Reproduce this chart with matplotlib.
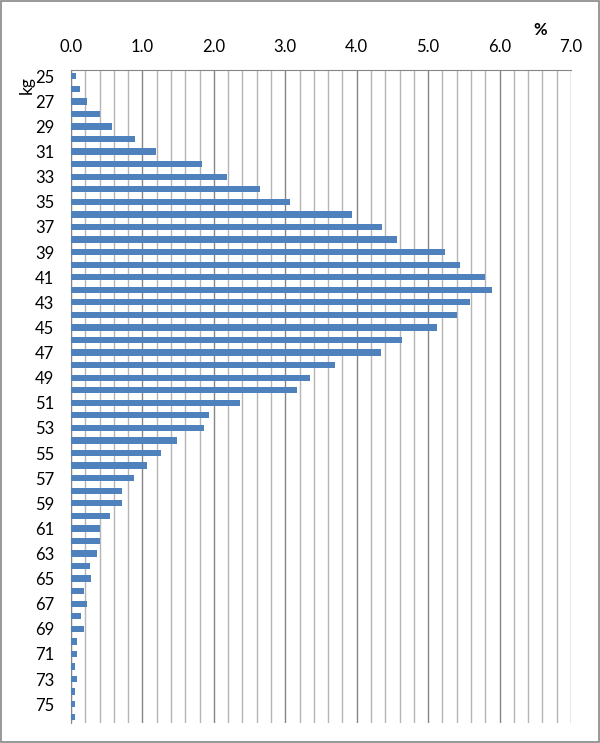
import matplotlib
matplotlib.use("Agg")
import matplotlib.pyplot as plt
from matplotlib.patches import Rectangle
from matplotlib.ticker import MultipleLocator

plt.rcParams['font.family'] = ['Lato', 'DejaVu Sans']

weights = list(range(25, 77))
percent = [0.07, 0.12, 0.23, 0.40, 0.58, 0.89, 1.19, 1.84, 2.19, 2.64,
           3.07, 3.94, 4.36, 4.57, 5.24, 5.45, 5.79, 5.90, 5.59, 5.41,
           5.13, 4.64, 4.34, 3.70, 3.34, 3.16, 2.36, 1.93, 1.86, 1.48,
           1.26, 1.07, 0.88, 0.72, 0.71, 0.54, 0.40, 0.40, 0.36, 0.26,
           0.28, 0.18, 0.23, 0.14, 0.18, 0.09, 0.08, 0.05, 0.08, 0.05,
           0.05, 0.05]
x_ticks = [0.0, 1.0, 2.0, 3.0, 4.0, 5.0, 6.0, 7.0]

fig = plt.figure(figsize=(6.0, 7.43), dpi=100)
fig.patches.append(Rectangle((0.002, 0.002), 0.996, 0.996, transform=fig.transFigure,
                             fill=False, edgecolor='#868686', linewidth=1.2))

ax = fig.add_axes([0.1183, 0.0269, 0.8334, 0.8789])
pos = list(range(len(weights)))
ax.barh(pos, percent, height=0.5, color='#4f81bd', zorder=3)

ax.set_xlim(0, 7.0)
ax.set_ylim(len(weights) - 0.5, -0.5)
ax.xaxis.tick_top()
ax.set_xticks(x_ticks)
ax.set_xticklabels([f"{v:.1f}" for v in x_ticks])
ax.xaxis.set_minor_locator(MultipleLocator(0.2))
ax.grid(which='major', axis='x', color='#868686', linewidth=1.0, zorder=0)
ax.grid(which='minor', axis='x', color='#b5b5b5', linewidth=1.0, zorder=0)
ax.set_yticks(pos[::2])
ax.set_yticklabels([str(w) for w in weights[::2]])
ax.tick_params(axis='both', which='both', length=0, labelsize=12, colors='black')
ax.tick_params(axis='x', pad=11)
ax.tick_params(axis='y', pad=12)

for s in ['bottom', 'right']:
    ax.spines[s].set_visible(False)
ax.spines['top'].set_color('#868686')
ax.spines['left'].set_color('#868686')

fig.text(27 / 600, 1 - 85 / 743, 'kg', rotation=90, ha='center', va='center', fontsize=12.5)
fig.text(540 / 600, 1 - 30 / 743, '%', ha='center', va='center', fontsize=12, fontweight='bold')

fig.savefig('out.png', dpi=100)
